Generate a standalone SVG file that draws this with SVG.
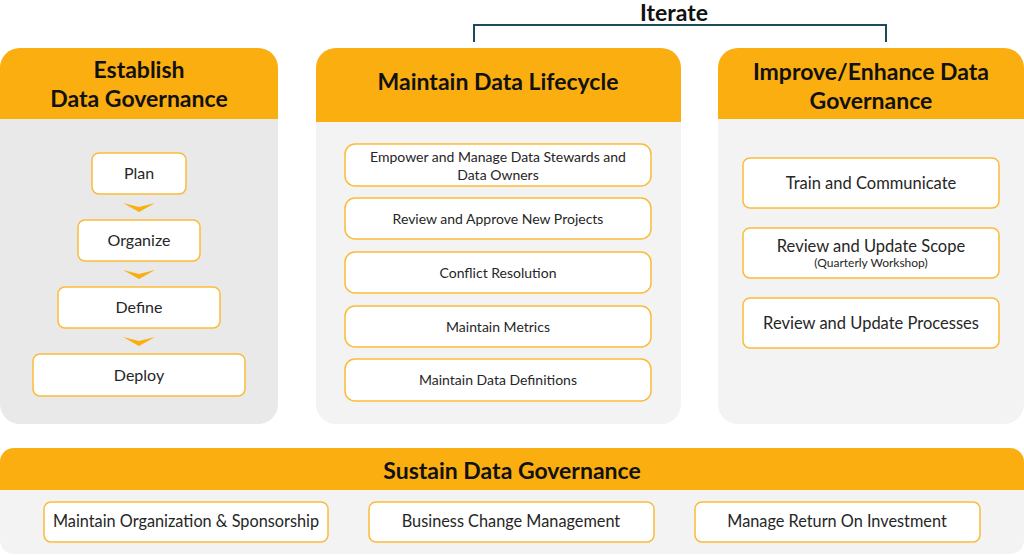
<svg xmlns="http://www.w3.org/2000/svg" width="1024" height="555" viewBox="0 0 1024 555">
<defs>
<style>
.hdr{fill:#FAAE10}
.body1{fill:#E9E9E9}
.body2{fill:#F3F3F3}
.box{fill:#FFFFFF;stroke:#FBBB3A;stroke-width:1.5}
.t{font-family:Lato,"Liberation Sans",sans-serif;fill:#262626;text-anchor:middle}
.h{font-family:Lato,"Liberation Sans",sans-serif;fill:#111;text-anchor:middle;font-weight:bold;font-size:23px}
.chev{fill:#FAAE10}
</style>
<clipPath id="cl"><rect x="0" y="48" width="278" height="376" rx="20"/></clipPath>
<clipPath id="cm"><rect x="316" y="48" width="365" height="376" rx="20"/></clipPath>
<clipPath id="cr"><rect x="718" y="48" width="306" height="376" rx="20"/></clipPath>
<clipPath id="cb"><rect x="0" y="448" width="1024" height="106" rx="14"/></clipPath>
</defs>
<rect width="1024" height="555" fill="#FFFFFF"/>

<g id="iterate">
<path d="M474,42 V25 H886 V42" fill="none" stroke="#1E4A5C" stroke-width="2"/>
<text class="h" x="674" y="21" font-size="22">Iterate</text>
</g>

<g id="establish">
<g clip-path="url(#cl)">
<rect x="0" y="48" width="278" height="376" class="body1"/>
<rect x="0" y="48" width="278" height="71" class="hdr"/>
</g>
<text class="h" x="139" y="78">Establish</text>
<text class="h" x="139" y="107">Data Governance</text>
</g>
<g id="plan"><rect class="box" x="92" y="153" width="94" height="41" rx="7"/><text class="t" x="139" y="179" font-size="16">Plan</text></g>
<g id="organize"><rect class="box" x="78" y="220" width="122" height="41" rx="7"/><text class="t" x="139" y="246" font-size="16">Organize</text></g>
<g id="define"><rect class="box" x="58" y="287" width="162" height="41" rx="7"/><text class="t" x="139" y="313" font-size="16">Define</text></g>
<g id="deploy"><rect class="box" x="33" y="354" width="212" height="42" rx="7"/><text class="t" x="139" y="381" font-size="16">Deploy</text></g>

<g id="connectors">
<path class="chev" d="M123,203 L139,207 L155,203 L139,212 Z"/>
<path class="chev" d="M123,270 L139,274 L155,270 L139,279 Z"/>
<path class="chev" d="M123,337 L139,341 L155,337 L139,346 Z"/>
</g>

<g id="lifecycle">
<g clip-path="url(#cm)">
<rect x="316" y="48" width="365" height="376" class="body2"/>
<rect x="316" y="48" width="365" height="74" class="hdr"/>
</g>
<text class="h" x="498" y="90">Maintain Data Lifecycle</text>
</g>
<g id="empower"><rect class="box" x="345" y="144" width="306" height="42" rx="10"/><text class="t" x="498" y="162" font-size="14">Empower and Manage Data Stewards and</text><text class="t" x="498" y="180" font-size="14">Data Owners</text></g>
<g id="review-projects"><rect class="box" x="345" y="198" width="306" height="41" rx="10"/><text class="t" x="498" y="224" font-size="14">Review and Approve New Projects</text></g>
<g id="conflict"><rect class="box" x="345" y="252" width="306" height="41" rx="10"/><text class="t" x="498" y="278" font-size="14">Conflict Resolution</text></g>
<g id="metrics"><rect class="box" x="345" y="306" width="306" height="41" rx="10"/><text class="t" x="498" y="332" font-size="14">Maintain Metrics</text></g>
<g id="definitions"><rect class="box" x="345" y="359" width="306" height="42" rx="10"/><text class="t" x="498" y="385" font-size="14">Maintain Data Definitions</text></g>

<g id="improve">
<g clip-path="url(#cr)">
<rect x="718" y="48" width="306" height="376" class="body2"/>
<rect x="718" y="48" width="306" height="71" class="hdr"/>
</g>
<text class="h" x="871" y="80">Improve/Enhance Data</text>
<text class="h" x="871" y="109">Governance</text>
</g>
<g id="train"><rect class="box" x="743" y="158" width="256" height="50" rx="7"/><text class="t" x="871" y="189" font-size="16.5">Train and Communicate</text></g>
<g id="scope"><rect class="box" x="743" y="228" width="256" height="50" rx="7"/><text class="t" x="871" y="252" font-size="16.5">Review and Update Scope</text><text class="t" x="871" y="267" font-size="12">(Quarterly Workshop)</text></g>
<g id="processes"><rect class="box" x="743" y="298" width="256" height="50" rx="7"/><text class="t" x="871" y="329" font-size="16.5">Review and Update Processes</text></g>

<g id="sustain">
<g clip-path="url(#cb)">
<rect x="0" y="448" width="1024" height="106" class="body2"/>
<rect x="0" y="448" width="1024" height="42" class="hdr"/>
</g>
<text class="h" x="512" y="479">Sustain Data Governance</text>
</g>
<g id="sponsorship"><rect class="box" x="44" y="502" width="284" height="40" rx="7"/><text class="t" x="186" y="527" font-size="16.3">Maintain Organization &amp; Sponsorship</text></g>
<g id="change"><rect class="box" x="369" y="502" width="285" height="40" rx="7"/><text class="t" x="511" y="527" font-size="16.3">Business Change Management</text></g>
<g id="roi"><rect class="box" x="695" y="502" width="285" height="40" rx="7"/><text class="t" x="837" y="527" font-size="16.3">Manage Return On Investment</text></g>
</svg>
